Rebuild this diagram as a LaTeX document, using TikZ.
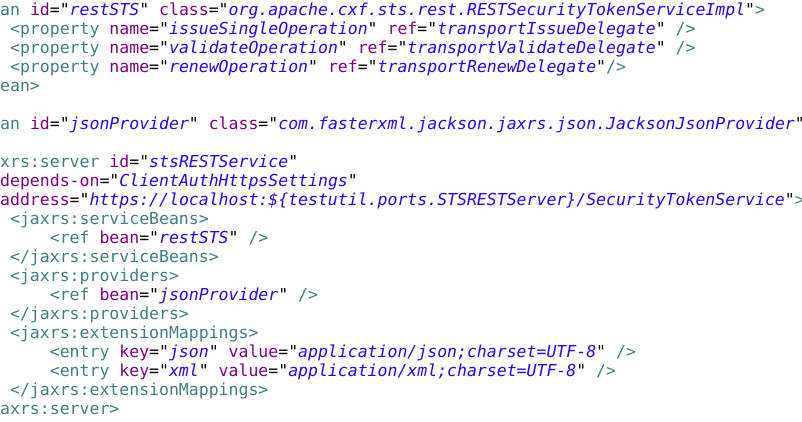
\documentclass[tikz,border=0pt]{standalone}
\usepackage{fontspec}
\setmonofont{DejaVu Sans Mono}
\definecolor{tagc}{HTML}{3F7F7F}
\definecolor{attc}{HTML}{7F007F}
\definecolor{valc}{HTML}{2A00FF}
\newcommand{\tg}[1]{\textcolor{tagc}{#1}}
\newcommand{\at}[1]{\textcolor{attc}{#1}}
\newcommand{\vl}[1]{\textcolor{valc}{\itshape #1}}
\begin{document}
\begin{tikzpicture}[x=1pt,y=1pt,
  ln/.style={anchor=base west,inner sep=0pt,font=\ttfamily\fontsize{16.5}{19}\selectfont}]
\useasboundingbox (0,0) rectangle (802,-421);
\def\cw{9.93}
\node[ln] (l1) at (0,-15) {\tg{an} \at{id}="\vl{restSTS}" \at{class}="\vl{org.apache.cxf.sts.rest.RESTSecurityTokenServiceImpl}"\tg{>}};
\node[ln] (l2) at (\cw,-34) {\tg{<property} \at{name}="\vl{issueSingleOperation}" \at{ref}="\vl{transportIssueDelegate}" \tg{/>}};
\node[ln] (l3) at (\cw,-53) {\tg{<property} \at{name}="\vl{validateOperation}" \at{ref}="\vl{transportValidateDelegate}" \tg{/>}};
\node[ln] (l4) at (\cw,-72) {\tg{<property} \at{name}="\vl{renewOperation}" \at{ref}="\vl{transportRenewDelegate}"\tg{/>}};
\node[ln] (l5) at (0,-91) {\tg{ean>}};
\node[ln] (l7) at (0,-129) {\tg{an} \at{id}="\vl{jsonProvider}" \at{class}="\vl{com.fasterxml.jackson.jaxrs.json.JacksonJsonProvider}"};
\node[ln] (l9) at (0,-167) {\tg{xrs:server} \at{id}="\vl{stsRESTService}"};
\node[ln] (l10) at (0,-186) {\at{depends-on}="\vl{ClientAuthHttpsSettings}"};
\node[ln] (l11) at (0,-205) {\at{address}="\vl{https://localhost:\$\{testutil.ports.STSRESTServer\}/SecurityTokenService}"\tg{>}};
\node[ln] (l12) at (\cw,-224) {\tg{<jaxrs:serviceBeans>}};
\node[ln] (l13) at (5*\cw,-243) {\tg{<ref} \at{bean}="\vl{restSTS}" \tg{/>}};
\node[ln] (l14) at (\cw,-262) {\tg{</jaxrs:serviceBeans>}};
\node[ln] (l15) at (\cw,-281) {\tg{<jaxrs:providers>}};
\node[ln] (l16) at (5*\cw,-300) {\tg{<ref} \at{bean}="\vl{jsonProvider}" \tg{/>}};
\node[ln] (l17) at (\cw,-319) {\tg{</jaxrs:providers>}};
\node[ln] (l18) at (\cw,-338) {\tg{<jaxrs:extensionMappings>}};
\node[ln] (l19) at (5*\cw,-357) {\tg{<entry} \at{key}="\vl{json}" \at{value}="\vl{application/json;charset=UTF-8}" \tg{/>}};
\node[ln] (l20) at (5*\cw,-376) {\tg{<entry} \at{key}="\vl{xml}" \at{value}="\vl{application/xml;charset=UTF-8}" \tg{/>}};
\node[ln] (l21) at (\cw,-395) {\tg{</jaxrs:extensionMappings>}};
\node[ln] (l22) at (0,-414) {\tg{axrs:server>}};
\end{tikzpicture}
\end{document}
